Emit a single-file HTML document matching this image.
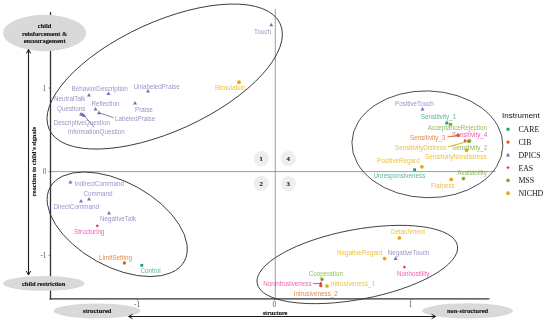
<!DOCTYPE html>
<html><head><meta charset="utf-8"><title>Figure</title>
<style>
html,body{margin:0;padding:0;background:#fff;}
body{width:550px;height:324px;overflow:hidden;}
svg{display:block;filter:blur(0.35px);}
.lab{font-family:"Liberation Sans",sans-serif;font-size:6.3px;}
.ser{font-family:"Liberation Serif",serif;}
.b{font-weight:bold;}
</style></head><body>
<svg width="550" height="324" viewBox="0 0 550 324">
<rect width="550" height="324" fill="#fff"/>

<line x1="275.3" y1="8.8" x2="275.3" y2="298.5" stroke="#767676" stroke-width="0.7"/>
<line x1="50" y1="171.6" x2="495.5" y2="171.6" stroke="#767676" stroke-width="0.7"/>
<line x1="50.5" y1="12" x2="50.5" y2="299.5" stroke="#333" stroke-width="1.3"/>
<line x1="49.5" y1="298.9" x2="489.4" y2="298.9" stroke="#333" stroke-width="1.3"/>
<line x1="48.6" y1="88.0" x2="50" y2="88.0" stroke="#333" stroke-width="0.6"/>
<text x="46.5" y="90.5" text-anchor="end" class="ser" font-size="7.3" fill="#5a5a5a">1</text>
<line x1="48.6" y1="171.6" x2="50" y2="171.6" stroke="#333" stroke-width="0.6"/>
<text x="46.5" y="174.1" text-anchor="end" class="ser" font-size="7.3" fill="#5a5a5a">0</text>
<line x1="48.6" y1="255.3" x2="50" y2="255.3" stroke="#333" stroke-width="0.6"/>
<text x="46.5" y="257.8" text-anchor="end" class="ser" font-size="7.3" fill="#5a5a5a">-1</text>
<line x1="137.3" y1="299" x2="137.3" y2="300.6" stroke="#333" stroke-width="0.6"/>
<text x="137.1" y="307.4" text-anchor="middle" class="ser" font-size="7.3" fill="#5a5a5a">-1</text>
<line x1="274.6" y1="299" x2="274.6" y2="300.6" stroke="#333" stroke-width="0.6"/>
<text x="274.3" y="307.4" text-anchor="middle" class="ser" font-size="7.3" fill="#5a5a5a">0</text>
<line x1="411" y1="299" x2="411" y2="300.6" stroke="#333" stroke-width="0.6"/>
<text x="410.7" y="307.4" text-anchor="middle" class="ser" font-size="7.3" fill="#5a5a5a">1</text>
<circle cx="261.3" cy="158.7" r="7.6" fill="#eeeeee"/>
<text x="261.3" y="161.0" text-anchor="middle" class="ser b" font-size="6.8" fill="#222" stroke="#222" stroke-width="0.12">1</text>
<circle cx="288.3" cy="158.7" r="7.6" fill="#eeeeee"/>
<text x="288.3" y="161.0" text-anchor="middle" class="ser b" font-size="6.8" fill="#222" stroke="#222" stroke-width="0.12">4</text>
<circle cx="261.3" cy="183.6" r="7.6" fill="#eeeeee"/>
<text x="261.3" y="185.9" text-anchor="middle" class="ser b" font-size="6.8" fill="#222" stroke="#222" stroke-width="0.12">2</text>
<circle cx="288.3" cy="183.6" r="7.6" fill="#eeeeee"/>
<text x="288.3" y="185.9" text-anchor="middle" class="ser b" font-size="6.8" fill="#222" stroke="#222" stroke-width="0.12">3</text>
<ellipse cx="164.7" cy="76.55" rx="127.0" ry="54.6" transform="rotate(-24.6 164.7 76.55)" fill="none" stroke="#303030" stroke-width="0.85"/>
<ellipse cx="117.2" cy="224.3" rx="76.6" ry="42.2" transform="rotate(28.9 117.2 224.3)" fill="none" stroke="#303030" stroke-width="0.85"/>
<ellipse cx="357.3" cy="264.5" rx="101.9" ry="34.9" transform="rotate(-10.7 357.3 264.5)" fill="none" stroke="#303030" stroke-width="0.85"/>
<ellipse cx="427.4" cy="144.3" rx="75.5" ry="53.4" transform="rotate(1.5 427.4 144.3)" fill="none" stroke="#303030" stroke-width="0.85"/>
<ellipse cx="44.6" cy="33.0" rx="41.6" ry="18.2" fill="#d9d9d9"/>
<text x="44.6" y="28.2" text-anchor="middle" class="ser b" font-size="6.4" fill="#1a1a1a" stroke="#1a1a1a" stroke-width="0.15">child</text>
<text x="44.6" y="35.6" text-anchor="middle" class="ser b" font-size="6.4" fill="#1a1a1a" stroke="#1a1a1a" stroke-width="0.15">reinforcement &amp;</text>
<text x="44.6" y="43.0" text-anchor="middle" class="ser b" font-size="6.4" fill="#1a1a1a" stroke="#1a1a1a" stroke-width="0.15">encouragement</text>
<ellipse cx="43.7" cy="283.4" rx="40.8" ry="7.4" fill="#d9d9d9"/>
<text x="43.7" y="285.6" text-anchor="middle" class="ser b" font-size="6.4" fill="#1a1a1a" stroke="#1a1a1a" stroke-width="0.15">child restriction</text>
<ellipse cx="97" cy="310.9" rx="43.4" ry="7.4" fill="#d9d9d9"/>
<text x="97" y="313.1" text-anchor="middle" class="ser b" font-size="6.4" fill="#1a1a1a" stroke="#1a1a1a" stroke-width="0.15">structured</text>
<ellipse cx="467.6" cy="310.8" rx="45.5" ry="7.6" fill="#d9d9d9"/>
<text x="467.6" y="313.0" text-anchor="middle" class="ser b" font-size="6.4" fill="#1a1a1a" stroke="#1a1a1a" stroke-width="0.15">non-structured</text>
<line x1="28.5" y1="49.5" x2="28.5" y2="275" stroke="#1a1a1a" stroke-width="1.1"/>
<polyline points="26.3,53.5 28.5,49.5 30.7,53.5" fill="none" stroke="#1a1a1a" stroke-width="1.0"/>
<polyline points="30.7,271.0 28.5,275 26.3,271.0" fill="none" stroke="#1a1a1a" stroke-width="1.0"/>
<line x1="128.6" y1="316.5" x2="435.6" y2="316.5" stroke="#1a1a1a" stroke-width="1.1"/>
<polyline points="132.6,318.7 128.6,316.5 132.6,314.3" fill="none" stroke="#1a1a1a" stroke-width="1.0"/>
<polyline points="431.6,314.3 435.6,316.5 431.6,318.7" fill="none" stroke="#1a1a1a" stroke-width="1.0"/>
<text transform="translate(36.2,161.6) rotate(-90)" text-anchor="middle" class="ser b" font-size="6.45" fill="#1a1a1a" stroke="#1a1a1a" stroke-width="0.15">reaction to child's signals</text>
<text x="275" y="315" text-anchor="middle" class="ser b" font-size="6.3" fill="#1a1a1a" stroke="#1a1a1a" stroke-width="0.15">structure</text>
<text x="262.5" y="33.5" text-anchor="middle" class="lab" fill="#7570B3" fill-opacity="0.74">Touch</text>
<text x="230" y="90.2" text-anchor="middle" class="lab" fill="#E6AB02" fill-opacity="0.74">Stimulation</text>
<text x="99.7" y="90.8" text-anchor="middle" class="lab" fill="#7570B3" fill-opacity="0.74">BehaviorDescription</text>
<text x="133.5" y="88.5" text-anchor="start" class="lab" fill="#7570B3" fill-opacity="0.74">UnlabeledPraise</text>
<text x="54" y="100.7" text-anchor="start" class="lab" fill="#7570B3" fill-opacity="0.74">NeutralTalk</text>
<text x="91.5" y="106.2" text-anchor="start" class="lab" fill="#7570B3" fill-opacity="0.74">Reflection</text>
<text x="135" y="111.5" text-anchor="start" class="lab" fill="#7570B3" fill-opacity="0.74">Praise</text>
<text x="57" y="110.9" text-anchor="start" class="lab" fill="#7570B3" fill-opacity="0.74">Questions</text>
<text x="115" y="121.2" text-anchor="start" class="lab" fill="#7570B3" fill-opacity="0.74">LabeledPraise</text>
<text x="53.6" y="124.6" text-anchor="start" class="lab" fill="#7570B3" fill-opacity="0.74">DescriptiveQuestion</text>
<text x="68" y="134.2" text-anchor="start" class="lab" fill="#7570B3" fill-opacity="0.74">InformationQuestion</text>
<text x="74.4" y="186.2" text-anchor="start" class="lab" fill="#7570B3" fill-opacity="0.74">IndirectCommand</text>
<text x="83.5" y="196.2" text-anchor="start" class="lab" fill="#7570B3" fill-opacity="0.74">Command</text>
<text x="53.5" y="208.7" text-anchor="start" class="lab" fill="#7570B3" fill-opacity="0.74">DirectCommand</text>
<text x="100" y="221.2" text-anchor="start" class="lab" fill="#7570B3" fill-opacity="0.74">NegativeTalk</text>
<text x="74.1" y="234.2" text-anchor="start" class="lab" fill="#E7298A" fill-opacity="0.74">Structuring</text>
<text x="99" y="259.8" text-anchor="start" class="lab" fill="#D95F02" fill-opacity="0.74">LimitSetting</text>
<text x="140.4" y="273.2" text-anchor="start" class="lab" fill="#1B9E77" fill-opacity="0.74">Control</text>
<text x="391" y="234.3" text-anchor="start" class="lab" fill="#E6AB02" fill-opacity="0.74">Detachment</text>
<text x="337" y="255.4" text-anchor="start" class="lab" fill="#E6AB02" fill-opacity="0.74">NegativeRegard</text>
<text x="387.7" y="255.4" text-anchor="start" class="lab" fill="#7570B3" fill-opacity="0.74">NegativeTouch</text>
<text x="396.9" y="275.6" text-anchor="start" class="lab" fill="#E7298A" fill-opacity="0.74">Nonhostility</text>
<text x="308.7" y="275.8" text-anchor="start" class="lab" fill="#66A61E" fill-opacity="0.74">Cooperation</text>
<text x="293.7" y="295.8" text-anchor="start" class="lab" fill="#D95F02" fill-opacity="0.74">Intrusiveness_2</text>
<text x="331" y="285.8" text-anchor="start" class="lab" fill="#E6AB02" fill-opacity="0.74">Intrusiveness_1</text>
<text x="263.3" y="285.8" text-anchor="start" class="lab" fill="#E7298A" fill-opacity="0.74">Nonintrusiveness</text>
<text x="395" y="105.9" text-anchor="start" class="lab" fill="#7570B3" fill-opacity="0.74">PositiveTouch</text>
<text x="420.7" y="119.2" text-anchor="start" class="lab" fill="#1B9E77" fill-opacity="0.74">Sensitivity_1</text>
<text x="427.8" y="130.0" text-anchor="start" class="lab" fill="#66A61E" fill-opacity="0.74">AcceptanceRejection</text>
<text x="410" y="139.6" text-anchor="start" class="lab" fill="#D95F02" fill-opacity="0.74">Sensitivity_3</text>
<text x="395" y="149.6" text-anchor="start" class="lab" fill="#E6AB02" fill-opacity="0.74">SensitivityDistress</text>
<text x="452" y="149.6" text-anchor="start" class="lab" fill="#66A61E" fill-opacity="0.74">Sensitivity_2</text>
<text x="452" y="137.1" text-anchor="start" class="lab" fill="#E7298A" fill-opacity="0.74">Sensitivity_4</text>
<text x="425" y="159.2" text-anchor="start" class="lab" fill="#E6AB02" fill-opacity="0.74">SensitivityNondistress</text>
<text x="377" y="163.3" text-anchor="start" class="lab" fill="#E6AB02" fill-opacity="0.74">PositiveRegard</text>
<text x="373.5" y="177.8" text-anchor="start" class="lab" fill="#1B9E77" fill-opacity="0.74">Unresponsiveness</text>
<text x="457.3" y="175.2" text-anchor="start" class="lab" fill="#66A61E" fill-opacity="0.74">Availability</text>
<text x="430.9" y="187.6" text-anchor="start" class="lab" fill="#E6AB02" fill-opacity="0.74">Flatness</text>
<line x1="99" y1="112.7" x2="113.5" y2="117.6" stroke="#7570B3" stroke-width="0.9"/>
<line x1="84" y1="115.5" x2="94.3" y2="127.3" stroke="#7570B3" stroke-width="0.9"/>
<line x1="313.4" y1="283.6" x2="320.5" y2="283.6" stroke="#E7298A" stroke-width="0.9"/>
<line x1="447.4" y1="137" x2="458" y2="135.5" stroke="#D95F02" stroke-width="0.9"/>
<line x1="447.6" y1="146.9" x2="466.5" y2="141.8" stroke="#E6AB02" stroke-width="0.9"/>
<polygon points="271.2,22.7 269.2,26.3 273.2,26.3" fill="#7570B3"/>
<circle cx="239" cy="82.2" r="1.85" fill="#E6AB02"/>
<polygon points="89.0,92.9 87.0,96.5 91.0,96.5" fill="#7570B3"/>
<polygon points="148.0,88.9 146.0,92.5 150.0,92.5" fill="#7570B3"/>
<polygon points="108.5,91.5 106.5,95.1 110.5,95.1" fill="#7570B3"/>
<polygon points="95.5,106.9 93.5,110.5 97.5,110.5" fill="#7570B3"/>
<polygon points="135.0,100.9 133.0,104.5 137.0,104.5" fill="#7570B3"/>
<polygon points="81.0,111.9 79.0,115.5 83.0,115.5" fill="#7570B3"/>
<polygon points="99.0,110.6 97.0,114.2 101.0,114.2" fill="#7570B3"/>
<polygon points="82.5,112.4 80.5,116.0 84.5,116.0" fill="#7570B3"/>
<polygon points="84.0,113.4 82.0,117.0 86.0,117.0" fill="#7570B3"/>
<polygon points="70.4,179.9 68.4,183.5 72.4,183.5" fill="#7570B3"/>
<polygon points="89.0,196.9 87.0,200.5 91.0,200.5" fill="#7570B3"/>
<polygon points="81.0,198.9 79.0,202.5 83.0,202.5" fill="#7570B3"/>
<polygon points="109.0,210.9 107.0,214.5 111.0,214.5" fill="#7570B3"/>
<polygon points="97.3,224.20 98.90,225.8 97.3,227.40 95.70,225.8" fill="#E7298A"/>
<circle cx="124.4" cy="263" r="1.65" fill="#D95F02"/>
<rect x="140.40" y="263.90" width="2.80" height="2.80" fill="#1B9E77"/>
<circle cx="399.3" cy="237.9" r="1.85" fill="#E6AB02"/>
<circle cx="384.6" cy="258.6" r="1.85" fill="#E6AB02"/>
<polygon points="395.6,256.3 393.6,259.9 397.6,259.9" fill="#7570B3"/>
<polygon points="404.4,265.50 406.00,267.1 404.4,268.70 402.80,267.1" fill="#E7298A"/>
<circle cx="322" cy="279.4" r="2.20" fill="#66A61E" fill-opacity="0.35"/><circle cx="322" cy="279.4" r="1.45" fill="#66A61E"/>
<circle cx="320.8" cy="285.7" r="1.65" fill="#D95F02"/>
<circle cx="327" cy="286" r="1.85" fill="#E6AB02"/>
<polygon points="320.8,281.80 322.40,283.4 320.8,285.00 319.20,283.4" fill="#E7298A"/>
<polygon points="422.5,106.9 420.5,110.5 424.5,110.5" fill="#7570B3"/>
<rect x="445.40" y="121.60" width="2.80" height="2.80" fill="#1B9E77"/>
<circle cx="450.4" cy="124.4" r="2.20" fill="#66A61E" fill-opacity="0.35"/><circle cx="450.4" cy="124.4" r="1.45" fill="#66A61E"/>
<circle cx="458.2" cy="135.5" r="1.65" fill="#D95F02"/>
<circle cx="468.5" cy="141.3" r="1.85" fill="#E6AB02"/>
<circle cx="469.4" cy="141.0" r="2.20" fill="#66A61E" fill-opacity="0.35"/><circle cx="469.4" cy="141.0" r="1.45" fill="#66A61E"/>
<polygon points="465.0,139.10 466.60,140.7 465.0,142.30 463.40,140.7" fill="#E7298A"/>
<circle cx="466.6" cy="150.2" r="1.85" fill="#E6AB02"/>
<circle cx="421.9" cy="166.8" r="1.85" fill="#E6AB02"/>
<rect x="413.20" y="168.30" width="2.80" height="2.80" fill="#1B9E77"/>
<circle cx="463.4" cy="178.6" r="2.20" fill="#66A61E" fill-opacity="0.35"/><circle cx="463.4" cy="178.6" r="1.45" fill="#66A61E"/>
<circle cx="451.2" cy="179.4" r="1.85" fill="#E6AB02"/>
<text x="502" y="117.6" font-family="Liberation Sans,sans-serif" font-size="8" fill="#111">Instrument</text>
<rect x="506.53" y="127.83" width="2.94" height="2.94" fill="#1B9E77"/>
<text x="518.4" y="132.2" class="ser" font-size="7.85" fill="#111">CARE</text>
<circle cx="508" cy="142.08" r="1.65" fill="#D95F02"/>
<text x="518.4" y="145.0" class="ser" font-size="7.85" fill="#111">CIB</text>
<polygon points="508.0,152.8 506.0,156.4 510.0,156.4" fill="#7570B3"/>
<text x="518.4" y="157.8" class="ser" font-size="7.85" fill="#111">DPICS</text>
<polygon points="508.0,166.04 509.60,167.6 508.0,169.24 506.40,167.6" fill="#E7298A"/>
<text x="518.4" y="170.5" class="ser" font-size="7.85" fill="#111">EAS</text>
<circle cx="508" cy="180.42000000000002" r="2.20" fill="#66A61E" fill-opacity="0.35"/><circle cx="508" cy="180.42000000000002" r="1.45" fill="#66A61E"/>
<text x="518.4" y="183.3" class="ser" font-size="7.85" fill="#111">MSS</text>
<circle cx="508" cy="193.20000000000002" r="1.85" fill="#E6AB02"/>
<text x="518.4" y="196.1" class="ser" font-size="7.85" fill="#111">NICHD</text>
</svg></body></html>
